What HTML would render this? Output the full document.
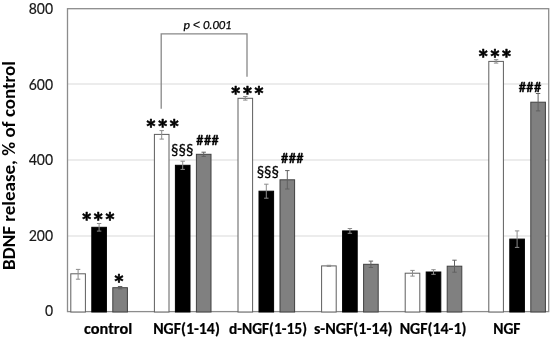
<!DOCTYPE html>
<html><head><meta charset="utf-8"><style>
html,body{margin:0;padding:0;background:#fff;}
svg{display:block;font-family:"Carlito","Liberation Sans",sans-serif;}
</style></head><body>
<svg width="550" height="340" viewBox="0 0 550 340">
<rect width="550" height="340" fill="#fff"/>
<line x1="67" y1="84.00" x2="548" y2="84.00" stroke="#d9d9d9" stroke-width="1"/>
<line x1="67" y1="160.00" x2="548" y2="160.00" stroke="#d9d9d9" stroke-width="1"/>
<line x1="67" y1="236.00" x2="548" y2="236.00" stroke="#d9d9d9" stroke-width="1"/>
<rect x="67.5" y="8.70" width="481.2" height="302.9" fill="none" stroke="#8c8c8c" stroke-width="1.3"/>
<rect x="70.80" y="273.80" width="14.60" height="38.20" fill="#ffffff" stroke="#5e5e5e" stroke-width="1"/>
<rect x="91.80" y="227.30" width="14.60" height="84.70" fill="#000000" stroke="#000000" stroke-width="1"/>
<rect x="112.80" y="287.70" width="14.60" height="24.30" fill="#808080" stroke="#404040" stroke-width="1"/>
<rect x="154.40" y="134.40" width="14.60" height="177.60" fill="#ffffff" stroke="#5e5e5e" stroke-width="1"/>
<rect x="175.40" y="165.30" width="14.60" height="146.70" fill="#000000" stroke="#000000" stroke-width="1"/>
<rect x="196.40" y="154.30" width="14.60" height="157.70" fill="#808080" stroke="#404040" stroke-width="1"/>
<rect x="238.00" y="98.30" width="14.60" height="213.70" fill="#ffffff" stroke="#5e5e5e" stroke-width="1"/>
<rect x="259.00" y="191.20" width="14.60" height="120.80" fill="#000000" stroke="#000000" stroke-width="1"/>
<rect x="280.00" y="179.80" width="14.60" height="132.20" fill="#808080" stroke="#404040" stroke-width="1"/>
<rect x="321.60" y="265.90" width="14.60" height="46.10" fill="#ffffff" stroke="#5e5e5e" stroke-width="1"/>
<rect x="342.60" y="230.90" width="14.60" height="81.10" fill="#000000" stroke="#000000" stroke-width="1"/>
<rect x="363.60" y="264.30" width="14.60" height="47.70" fill="#808080" stroke="#404040" stroke-width="1"/>
<rect x="405.20" y="273.20" width="14.60" height="38.80" fill="#ffffff" stroke="#5e5e5e" stroke-width="1"/>
<rect x="426.20" y="272.00" width="14.60" height="40.00" fill="#000000" stroke="#000000" stroke-width="1"/>
<rect x="447.20" y="266.20" width="14.60" height="45.80" fill="#808080" stroke="#404040" stroke-width="1"/>
<rect x="488.80" y="61.40" width="14.60" height="250.60" fill="#ffffff" stroke="#5e5e5e" stroke-width="1"/>
<rect x="509.80" y="239.10" width="14.60" height="72.90" fill="#000000" stroke="#000000" stroke-width="1"/>
<rect x="530.80" y="102.20" width="14.60" height="209.80" fill="#808080" stroke="#404040" stroke-width="1"/>
<path d="M78.10 269.40V279.20M75.90 269.40H80.30M75.90 279.20H80.30" stroke="#8c8c8c" stroke-width="1" fill="none"/>
<path d="M99.10 223.50V231.10M96.90 223.50H101.30M96.90 231.10H101.30" stroke="#8c8c8c" stroke-width="1" fill="none"/>
<path d="M120.10 286.50V288.90M117.90 286.50H122.30M117.90 288.90H122.30" stroke="#606060" stroke-width="1" fill="none"/>
<path d="M161.70 130.60V139.10M159.50 130.60H163.90M159.50 139.10H163.90" stroke="#8c8c8c" stroke-width="1" fill="none"/>
<path d="M182.70 161.20V169.40M180.50 161.20H184.90M180.50 169.40H184.90" stroke="#8c8c8c" stroke-width="1" fill="none"/>
<path d="M203.70 152.20V156.40M201.50 152.20H205.90M201.50 156.40H205.90" stroke="#606060" stroke-width="1" fill="none"/>
<path d="M245.30 96.50V100.10M243.10 96.50H247.50M243.10 100.10H247.50" stroke="#8c8c8c" stroke-width="1" fill="none"/>
<path d="M266.30 184.20V198.20M264.10 184.20H268.50M264.10 198.20H268.50" stroke="#8c8c8c" stroke-width="1" fill="none"/>
<path d="M287.30 170.60V189.00M285.10 170.60H289.50M285.10 189.00H289.50" stroke="#606060" stroke-width="1" fill="none"/>
<path d="M328.90 265.30V266.50M326.70 265.30H331.10M326.70 266.50H331.10" stroke="#8c8c8c" stroke-width="1" fill="none"/>
<path d="M349.90 228.50V233.30M347.70 228.50H352.10M347.70 233.30H352.10" stroke="#8c8c8c" stroke-width="1" fill="none"/>
<path d="M370.90 261.10V267.50M368.70 261.10H373.10M368.70 267.50H373.10" stroke="#606060" stroke-width="1" fill="none"/>
<path d="M412.50 270.40V276.10M410.30 270.40H414.70M410.30 276.10H414.70" stroke="#8c8c8c" stroke-width="1" fill="none"/>
<path d="M433.50 269.70V274.30M431.30 269.70H435.70M431.30 274.30H435.70" stroke="#8c8c8c" stroke-width="1" fill="none"/>
<path d="M454.50 260.20V272.20M452.30 260.20H456.70M452.30 272.20H456.70" stroke="#606060" stroke-width="1" fill="none"/>
<path d="M496.10 59.70V63.10M493.90 59.70H498.30M493.90 63.10H498.30" stroke="#8c8c8c" stroke-width="1" fill="none"/>
<path d="M517.10 230.90V247.40M514.90 230.90H519.30M514.90 247.40H519.30" stroke="#8c8c8c" stroke-width="1" fill="none"/>
<path d="M538.10 93.50V110.90M535.90 93.50H540.30M535.90 110.90H540.30" stroke="#606060" stroke-width="1" fill="none"/>
<path d="M161.2 108.7V33.8H247V76.7" fill="none" stroke="#888" stroke-width="1.3"/>
<text x="53" y="316.30" text-anchor="end" font-size="16" fill="#1a1a1a" stroke="#1a1a1a" stroke-width="0.15" textLength="8.109" lengthAdjust="spacingAndGlyphs">0</text>
<text x="53" y="240.78" text-anchor="end" font-size="16" fill="#1a1a1a" stroke="#1a1a1a" stroke-width="0.15" textLength="24.328" lengthAdjust="spacingAndGlyphs">200</text>
<text x="53" y="165.25" text-anchor="end" font-size="16" fill="#1a1a1a" stroke="#1a1a1a" stroke-width="0.15" textLength="24.328" lengthAdjust="spacingAndGlyphs">400</text>
<text x="53" y="89.72" text-anchor="end" font-size="16" fill="#1a1a1a" stroke="#1a1a1a" stroke-width="0.15" textLength="24.328" lengthAdjust="spacingAndGlyphs">600</text>
<text x="53" y="14.20" text-anchor="end" font-size="16" fill="#1a1a1a" stroke="#1a1a1a" stroke-width="0.15" textLength="24.328" lengthAdjust="spacingAndGlyphs">800</text>
<text transform="translate(14.5,165.5) rotate(-90)" text-anchor="middle" font-size="19" font-weight="bold" fill="#000" textLength="208.969" lengthAdjust="spacingAndGlyphs">BDNF release, % of control</text>
<text x="108.15" y="333.8" text-anchor="middle" font-size="15.3" font-weight="bold" fill="#000" stroke="#000" stroke-width="0.2" textLength="48.13" lengthAdjust="spacingAndGlyphs">control</text>
<text x="186.5" y="333.8" text-anchor="middle" font-size="15.3" font-weight="bold" fill="#000" stroke="#000" stroke-width="0.2" textLength="66.68" lengthAdjust="spacingAndGlyphs">NGF(1-14)</text>
<text x="267.95" y="333.8" text-anchor="middle" font-size="15.3" font-weight="bold" fill="#000" stroke="#000" stroke-width="0.2" textLength="78.07" lengthAdjust="spacingAndGlyphs">d-NGF(1-15)</text>
<text x="353.25" y="333.8" text-anchor="middle" font-size="15.3" font-weight="bold" fill="#000" stroke="#000" stroke-width="0.2" textLength="78.66" lengthAdjust="spacingAndGlyphs">s-NGF(1-14)</text>
<text x="433.05" y="333.8" text-anchor="middle" font-size="15.3" font-weight="bold" fill="#000" stroke="#000" stroke-width="0.2" textLength="66.78" lengthAdjust="spacingAndGlyphs">NGF(14-1)</text>
<text x="506.8" y="333.8" text-anchor="middle" font-size="15.3" font-weight="bold" fill="#000" stroke="#000" stroke-width="0.2" textLength="27.28" lengthAdjust="spacingAndGlyphs">NGF</text>
<text x="97.40" y="230.50" text-anchor="middle" font-size="27" font-weight="bold" letter-spacing="-1.8" fill="#000" stroke="#000" stroke-width="0.5" stroke-linejoin="round" textLength="34.953" lengthAdjust="spacingAndGlyphs">***</text>
<text x="118.15" y="292.50" text-anchor="middle" font-size="27" font-weight="bold" letter-spacing="-1.8" fill="#000" stroke="#000" stroke-width="0.5" stroke-linejoin="round" textLength="11.656" lengthAdjust="spacingAndGlyphs">*</text>
<text x="161.75" y="138.00" text-anchor="middle" font-size="27" font-weight="bold" letter-spacing="-1.8" fill="#000" stroke="#000" stroke-width="0.5" stroke-linejoin="round" textLength="34.953" lengthAdjust="spacingAndGlyphs">***</text>
<text x="246.50" y="105.00" text-anchor="middle" font-size="27" font-weight="bold" letter-spacing="-1.8" fill="#000" stroke="#000" stroke-width="0.5" stroke-linejoin="round" textLength="34.953" lengthAdjust="spacingAndGlyphs">***</text>
<text x="494.00" y="68.10" text-anchor="middle" font-size="27" font-weight="bold" letter-spacing="-1.8" fill="#000" stroke="#000" stroke-width="0.5" stroke-linejoin="round" textLength="34.953" lengthAdjust="spacingAndGlyphs">***</text>
<text x="182.20" y="154.80" text-anchor="middle" font-size="15.5" fill="#000" stroke="#000" stroke-width="0.3" textLength="22.3" lengthAdjust="spacingAndGlyphs">§§§</text>
<text x="267.80" y="177.40" text-anchor="middle" font-size="15.5" fill="#000" stroke="#000" stroke-width="0.3" textLength="22.3" lengthAdjust="spacingAndGlyphs">§§§</text>
<text x="207.75" y="145.00" text-anchor="middle" font-size="14.5" letter-spacing="0.4" fill="#000" stroke="#000" stroke-width="0.6" textLength="22.875" lengthAdjust="spacingAndGlyphs">###</text>
<text x="292.50" y="163.30" text-anchor="middle" font-size="14.5" letter-spacing="0.4" fill="#000" stroke="#000" stroke-width="0.6" textLength="22.875" lengthAdjust="spacingAndGlyphs">###</text>
<text x="530.10" y="92.10" text-anchor="middle" font-size="14.5" letter-spacing="0.4" fill="#000" stroke="#000" stroke-width="0.6" textLength="22.875" lengthAdjust="spacingAndGlyphs">###</text>
<text x="207.5" y="29" text-anchor="middle" font-size="12.8" font-style="italic" fill="#000" stroke="#000" stroke-width="0.25" textLength="47.92" lengthAdjust="spacingAndGlyphs">p <tspan font-family="Liberation Sans,sans-serif" stroke-width="0.1">&lt;</tspan> 0.001</text>
</svg>
</body></html>
